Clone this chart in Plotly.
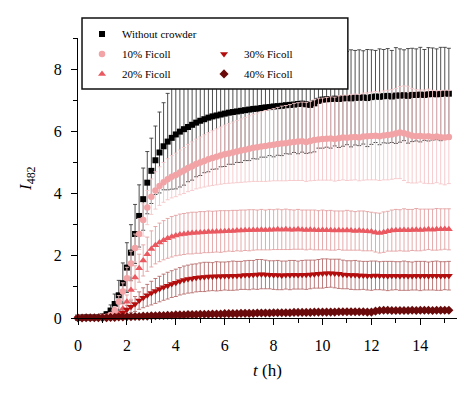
import plotly.graph_objects as go

# sampling times (minutes), every 10 min
TIME_MIN = [0, 10, 20, 30, 40, 50, 60, 70, 80, 90,
            100, 110, 120, 130, 140, 150, 160, 170, 180, 190,
            200, 210, 220, 230, 240, 250, 260, 270, 280, 290,
            300, 310, 320, 330, 340, 350, 360, 370, 380, 390,
            400, 410, 420, 430, 440, 450, 460, 470, 480, 490,
            500, 510, 520, 530, 540, 550, 560, 570, 580, 590,
            600, 610, 620, 630, 640, 650, 660, 670, 680, 690,
            700, 710, 720, 730, 740, 750, 760, 770, 780, 790,
            800, 810, 820, 830, 840, 850, 860, 870, 880, 890,
            900, 910]
t_h = [m / 60 for m in TIME_MIN]

NO_CROWDER = [0.01, 0.01, 0.02, 0.02, 0.02, 0.03, 0.05, 0.12, 0.24, 0.45,
              0.73, 1.12, 1.62, 2.10, 2.70, 3.28, 3.82, 4.35, 4.73, 5.07,
              5.32, 5.52, 5.67, 5.79, 5.90, 5.99, 6.07, 6.14, 6.21, 6.28,
              6.34, 6.39, 6.44, 6.48, 6.51, 6.54, 6.57, 6.60, 6.62, 6.64,
              6.66, 6.68, 6.70, 6.72, 6.73, 6.75, 6.77, 6.78, 6.80, 6.81,
              6.82, 6.84, 6.85, 6.86, 6.88, 6.89, 6.87, 6.85, 6.90, 6.98,
              7.02, 7.03, 7.04, 7.05, 7.04, 7.06, 7.07, 7.06, 7.08, 7.08,
              7.09, 7.07, 7.10, 7.12, 7.11, 7.13, 7.14, 7.12, 7.15, 7.15,
              7.16, 7.14, 7.17, 7.17, 7.18, 7.17, 7.19, 7.20, 7.19, 7.20,
              7.22, 7.21]
NO_CROWDER_ERR = [0.01, 0.01, 0.01, 0.02, 0.02, 0.02, 0.03, 0.08, 0.18, 0.32,
                  0.48, 0.65, 0.80, 0.90, 0.95, 1.00, 1.00, 1.00, 1.05, 1.10,
                  1.30, 1.40, 1.55, 1.65, 1.75, 1.78, 1.80, 1.76, 1.78, 1.74,
                  1.76, 1.72, 1.74, 1.70, 1.72, 1.68, 1.70, 1.66, 1.68, 1.64,
                  1.66, 1.62, 1.64, 1.60, 1.62, 1.58, 1.60, 1.56, 1.62, 1.58,
                  1.60, 1.56, 1.58, 1.54, 1.60, 1.56, 1.58, 1.54, 1.56, 1.52,
                  1.56, 1.54, 1.58, 1.52, 1.56, 1.54, 1.50, 1.56, 1.52, 1.54,
                  1.50, 1.56, 1.52, 1.48, 1.54, 1.50, 1.52, 1.48, 1.54, 1.50,
                  1.46, 1.52, 1.50, 1.48, 1.52, 1.46, 1.50, 1.48, 1.46, 1.50,
                  1.48, 1.46]

FICOLL_10 = [0.01, 0.01, 0.01, 0.02, 0.02, 0.02, 0.03, 0.04, 0.10, 0.25,
             0.52, 0.85, 1.28, 1.75, 2.25, 2.70, 3.15, 3.55, 3.90, 4.10,
             4.24, 4.36, 4.46, 4.54, 4.60, 4.68, 4.74, 4.82, 4.88, 4.95,
             5.00, 5.05, 5.10, 5.14, 5.18, 5.22, 5.26, 5.29, 5.32, 5.35,
             5.38, 5.41, 5.44, 5.47, 5.49, 5.51, 5.53, 5.55, 5.57, 5.59,
             5.61, 5.62, 5.64, 5.66, 5.67, 5.68, 5.66, 5.69, 5.72, 5.74,
             5.75, 5.76, 5.77, 5.75, 5.78, 5.80, 5.79, 5.81, 5.82, 5.80,
             5.83, 5.84, 5.85, 5.86, 5.84, 5.87, 5.88, 5.90, 5.93, 5.96,
             5.94, 5.90, 5.86, 5.84, 5.85, 5.83, 5.84, 5.82, 5.83, 5.81,
             5.80, 5.82]
FICOLL_10_ERR = [0.01, 0.01, 0.01, 0.01, 0.02, 0.02, 0.02, 0.03, 0.06, 0.12,
                 0.20, 0.28, 0.35, 0.40, 0.45, 0.50, 0.52, 0.55, 0.57, 0.60,
                 0.62, 0.64, 0.66, 0.68, 0.70, 0.72, 0.74, 0.76, 0.78, 0.80,
                 0.82, 0.84, 0.86, 0.88, 0.90, 0.92, 0.94, 0.96, 0.98, 1.00,
                 1.02, 1.04, 1.06, 1.08, 1.10, 1.12, 1.14, 1.15, 1.16, 1.18,
                 1.20, 1.21, 1.22, 1.24, 1.25, 1.26, 1.27, 1.28, 1.30, 1.31,
                 1.32, 1.33, 1.34, 1.35, 1.36, 1.36, 1.37, 1.38, 1.38, 1.39,
                 1.40, 1.40, 1.41, 1.42, 1.42, 1.43, 1.44, 1.44, 1.45, 1.48,
                 1.52, 1.55, 1.52, 1.50, 1.48, 1.50, 1.52, 1.50, 1.48, 1.50,
                 1.52, 1.50]

FICOLL_20 = [0.01, 0.01, 0.01, 0.01, 0.02, 0.02, 0.02, 0.02, 0.03, 0.05,
             0.12, 0.30, 0.52, 0.90, 1.30, 1.60, 1.85, 2.05, 2.22, 2.34,
             2.43, 2.50, 2.56, 2.61, 2.65, 2.68, 2.70, 2.72, 2.73, 2.74,
             2.75, 2.76, 2.77, 2.77, 2.78, 2.78, 2.79, 2.80, 2.80, 2.81,
             2.81, 2.82, 2.82, 2.83, 2.83, 2.84, 2.83, 2.84, 2.84, 2.85,
             2.84, 2.85, 2.84, 2.84, 2.85, 2.84, 2.83, 2.84, 2.83, 2.82,
             2.83, 2.82, 2.82, 2.81, 2.82, 2.81, 2.82, 2.81, 2.80, 2.81,
             2.80, 2.79, 2.78, 2.75, 2.73, 2.76, 2.79, 2.81, 2.82, 2.82,
             2.83, 2.82, 2.83, 2.84, 2.83, 2.84, 2.85, 2.84, 2.85, 2.85,
             2.86, 2.85]
FICOLL_20_ERR = [0.01, 0.01, 0.01, 0.01, 0.01, 0.01, 0.01, 0.02, 0.02, 0.04,
                 0.08, 0.15, 0.22, 0.30, 0.38, 0.45, 0.50, 0.55, 0.58, 0.60,
                 0.62, 0.63, 0.64, 0.65, 0.65, 0.66, 0.66, 0.66, 0.67, 0.66,
                 0.67, 0.66, 0.67, 0.66, 0.66, 0.67, 0.66, 0.65, 0.66, 0.65,
                 0.66, 0.65, 0.66, 0.65, 0.64, 0.65, 0.64, 0.65, 0.64, 0.65,
                 0.64, 0.65, 0.64, 0.63, 0.64, 0.63, 0.64, 0.63, 0.64, 0.63,
                 0.64, 0.63, 0.64, 0.63, 0.62, 0.63, 0.64, 0.63, 0.62, 0.63,
                 0.64, 0.63, 0.62, 0.63, 0.64, 0.65, 0.64, 0.66, 0.67, 0.66,
                 0.68, 0.67, 0.66, 0.68, 0.67, 0.66, 0.65, 0.66, 0.67, 0.66,
                 0.65, 0.66]

FICOLL_30 = [0.01, 0.01, 0.01, 0.01, 0.01, 0.01, 0.01, 0.02, 0.02, 0.04,
             0.08, 0.17, 0.27, 0.36, 0.45, 0.56, 0.65, 0.73, 0.80, 0.87,
             0.93, 0.99, 1.04, 1.09, 1.13, 1.18, 1.22, 1.25, 1.27, 1.29,
             1.31, 1.32, 1.33, 1.33, 1.34, 1.34, 1.35, 1.35, 1.36, 1.36,
             1.37, 1.38, 1.38, 1.39, 1.40, 1.41, 1.40, 1.39, 1.38, 1.38,
             1.37, 1.38, 1.38, 1.39, 1.38, 1.39, 1.39, 1.40, 1.41, 1.42,
             1.43, 1.44, 1.44, 1.43, 1.42, 1.40, 1.39, 1.38, 1.38, 1.37,
             1.37, 1.36, 1.36, 1.37, 1.36, 1.36, 1.35, 1.36, 1.36, 1.35,
             1.36, 1.35, 1.35, 1.36, 1.35, 1.36, 1.35, 1.36, 1.36, 1.35,
             1.36, 1.36]
FICOLL_30_ERR = [0.01, 0.01, 0.01, 0.01, 0.01, 0.01, 0.01, 0.01, 0.02, 0.03,
                 0.05, 0.09, 0.14, 0.19, 0.24, 0.28, 0.32, 0.35, 0.38, 0.40,
                 0.41, 0.42, 0.43, 0.43, 0.44, 0.44, 0.45, 0.45, 0.46, 0.45,
                 0.46, 0.47, 0.46, 0.45, 0.47, 0.46, 0.45, 0.46, 0.47, 0.46,
                 0.45, 0.46, 0.47, 0.46, 0.48, 0.47, 0.46, 0.45, 0.46, 0.47,
                 0.46, 0.45, 0.47, 0.46, 0.45, 0.46, 0.47, 0.46, 0.45, 0.46,
                 0.47, 0.46, 0.45, 0.46, 0.47, 0.46, 0.45, 0.46, 0.47, 0.46,
                 0.45, 0.46, 0.47, 0.46, 0.45, 0.46, 0.47, 0.46, 0.45, 0.46,
                 0.47, 0.46, 0.45, 0.46, 0.47, 0.46, 0.45, 0.46, 0.47, 0.46,
                 0.45, 0.46]

FICOLL_40 = [0.00, 0.00, 0.01, 0.01, 0.01, 0.01, 0.01, 0.01, 0.02, 0.02,
             0.03, 0.03, 0.04, 0.04, 0.05, 0.05, 0.06, 0.06, 0.07, 0.07,
             0.08, 0.08, 0.09, 0.09, 0.10, 0.10, 0.10, 0.11, 0.11, 0.11,
             0.12, 0.12, 0.12, 0.13, 0.13, 0.13, 0.14, 0.14, 0.14, 0.14,
             0.15, 0.15, 0.15, 0.15, 0.16, 0.16, 0.16, 0.16, 0.17, 0.17,
             0.17, 0.17, 0.17, 0.18, 0.18, 0.18, 0.18, 0.18, 0.19, 0.19,
             0.19, 0.19, 0.19, 0.19, 0.20, 0.20, 0.20, 0.20, 0.20, 0.20,
             0.20, 0.19, 0.19, 0.22, 0.24, 0.25, 0.25, 0.24, 0.24, 0.24,
             0.24, 0.24, 0.25, 0.24, 0.25, 0.25, 0.25, 0.24, 0.25, 0.25,
             0.25, 0.25]
FICOLL_40_ERR = [0.00, 0.00, 0.00, 0.00, 0.00, 0.01, 0.01, 0.01, 0.01, 0.01,
                 0.01, 0.01, 0.02, 0.02, 0.02, 0.02, 0.02, 0.03, 0.03, 0.03,
                 0.03, 0.03, 0.03, 0.03, 0.04, 0.04, 0.04, 0.04, 0.04, 0.04,
                 0.04, 0.04, 0.04, 0.04, 0.04, 0.04, 0.04, 0.04, 0.04, 0.04,
                 0.04, 0.04, 0.04, 0.04, 0.04, 0.04, 0.04, 0.04, 0.04, 0.04,
                 0.04, 0.04, 0.04, 0.04, 0.04, 0.04, 0.04, 0.04, 0.04, 0.04,
                 0.04, 0.04, 0.04, 0.04, 0.04, 0.04, 0.04, 0.04, 0.04, 0.04,
                 0.04, 0.04, 0.04, 0.05, 0.05, 0.05, 0.05, 0.05, 0.05, 0.05,
                 0.05, 0.05, 0.05, 0.05, 0.05, 0.05, 0.05, 0.05, 0.05, 0.05,
                 0.05, 0.05]

X_TICKS = [0, 2, 4, 6, 8, 10, 12, 14]
Y_TICKS = [0, 2, 4, 6, 8]

SERIES = [
    # name, values, errors, symbol, size, marker colour, error colour, legend
    ("Without crowder", NO_CROWDER, NO_CROWDER_ERR, "square", 6, "#000000", "#3c3c3c", "legend"),
    ("10% Ficoll", FICOLL_10, FICOLL_10_ERR, "circle", 6.5, "#f2a3a6", "#f5c6c8", "legend"),
    ("20% Ficoll", FICOLL_20, FICOLL_20_ERR, "triangle-up", 7, "#ea5860", "#e3a0a2", "legend"),
    ("30% Ficoll", FICOLL_30, FICOLL_30_ERR, "triangle-down", 7, "#b30d0d", "#b76d6d", "legend2"),
    ("40% Ficoll", FICOLL_40, FICOLL_40_ERR, "diamond", 7, "#6a0a0a", "#7a2a2a", "legend2"),
]

SERIF = "Liberation Serif"

fig = go.Figure()
for name, vals, errs, sym, size, col, ecol, leg in SERIES:
    fig.add_trace(go.Scatter(
        x=t_h, y=vals, name=name, mode="markers",
        marker=dict(symbol=sym, size=size, color=col, line=dict(width=0)),
        error_y=dict(type="data", array=errs, visible=True, color=ecol,
                     thickness=0.9, width=2),
        cliponaxis=False, legend=leg, legendgroup=name,
    ))

# legend frame (opaque box)
fig.add_shape(type="rect", xref="paper", yref="paper",
              x0=0.0106, x1=0.712, y0=0.818, y1=1.071,
              line=dict(color="#111111", width=1.5), fillcolor="white",
              layer="above")

fig.update_layout(
    width=466, height=389,
    margin=dict(l=70, r=17, t=30, b=79),
    paper_bgcolor="white", plot_bgcolor="white",
    font=dict(family=SERIF, color="#000000", size=16),
    showlegend=True,
    legend=dict(x=0.0106, y=1.066, xanchor="left", yanchor="top",
                bgcolor="rgba(0,0,0,0)", borderwidth=0, traceorder="grouped",
                font=dict(family=SERIF, size=11), tracegroupgap=1),
    legend2=dict(x=0.3325, y=0.995, xanchor="left", yanchor="top",
                 bgcolor="rgba(0,0,0,0)", borderwidth=0, traceorder="grouped",
                 font=dict(family=SERIF, size=11), tracegroupgap=1),
    xaxis=dict(range=[0, 15.5], tickvals=X_TICKS, showgrid=False, zeroline=False,
               showline=True, linecolor="#000000", linewidth=1.3,
               ticks="outside", ticklen=6, tickwidth=1.2, tickcolor="#000000",
               minor=dict(dtick=1, tick0=0, ticks="outside", ticklen=4,
                          tickwidth=1.1, tickcolor="#000000"),
               tickfont=dict(family=SERIF, size=16), ticklabelstandoff=7),
    yaxis=dict(range=[0, 9], tickvals=Y_TICKS, showgrid=False, zeroline=False,
               showline=True, linecolor="#000000", linewidth=1.3,
               ticks="outside", ticklen=6, tickwidth=1.2, tickcolor="#000000",
               minor=dict(dtick=1, tick0=0, ticks="outside", ticklen=4,
                          tickwidth=1.1, tickcolor="#000000"),
               tickfont=dict(family=SERIF, size=16), ticklabelstandoff=6),
    annotations=[
        dict(text="<i>t</i> (h)", xref="paper", yref="paper", x=0.5, y=-0.186,
             xanchor="center", yanchor="middle", showarrow=False,
             font=dict(family=SERIF, size=17)),
        dict(text="<i>I</i><sub>482</sub>", xref="paper", yref="paper",
             x=-0.1346, y=0.5, xanchor="center", yanchor="middle",
             textangle=-90, showarrow=False, font=dict(family=SERIF, size=17)),
    ],
)

fig.write_html("out.html")
